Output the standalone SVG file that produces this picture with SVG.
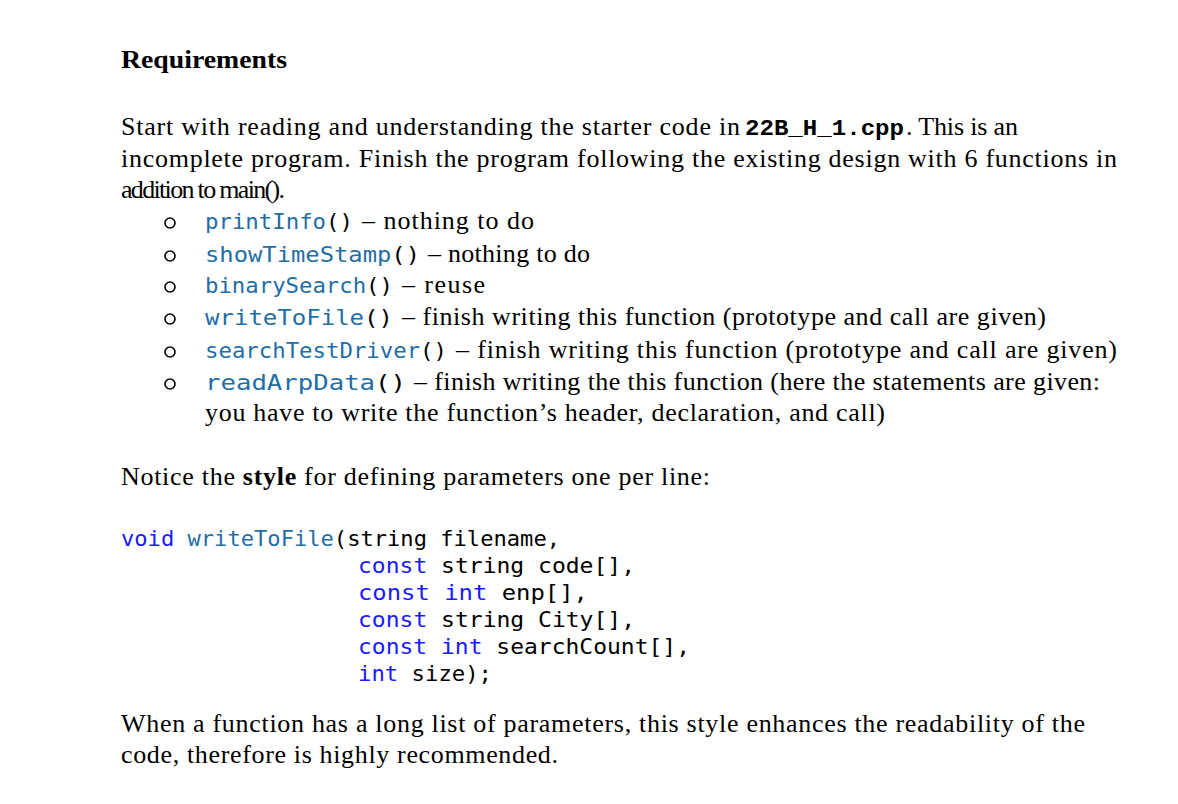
<svg xmlns="http://www.w3.org/2000/svg" width="1178" height="804" viewBox="0 0 1178 804">
<style>
.s{font-family:"Liberation Serif",serif;font-size:26px;fill:#000}
.m{font-family:"DejaVu Sans Mono",monospace;font-size:22px;fill:#000}
.f{fill:#1f6ea6}
.k{fill:#1a1aff}
.b{font-weight:bold}
</style>
<rect width="1178" height="804" fill="#fff"/>
<g id="title"><text class="s b" x="121" y="68" textLength="166" lengthAdjust="spacingAndGlyphs">Requirements</text></g>
<g id="intro">
<text class="s" x="121" y="135" textLength="619" lengthAdjust="spacing">Start with reading and understanding the starter code in</text>
<text x="745" y="135" font-family="Liberation Mono,monospace" font-size="22" font-weight="bold" textLength="159" lengthAdjust="spacingAndGlyphs">22B_H_1.cpp</text>
<text class="s" x="906" y="135" textLength="112" lengthAdjust="spacing">. This is an</text>
<text class="s" x="121" y="167" textLength="996" lengthAdjust="spacing">incomplete program. Finish the program following the existing design with 6 functions in</text>
<text class="s" x="121" y="198" textLength="164" lengthAdjust="spacing">addition to main().</text>
</g>
<g id="bullets" fill="none" stroke="#000" stroke-width="1.6">
<circle cx="170" cy="223" r="5"/><circle cx="170" cy="256" r="5"/><circle cx="170" cy="287" r="5"/>
<circle cx="170" cy="319" r="5"/><circle cx="170" cy="352" r="5"/><circle cx="170" cy="384" r="5"/>
</g>
<g id="items">
<text class="m" x="205" y="229" textLength="148" lengthAdjust="spacingAndGlyphs"><tspan class="f">printInfo</tspan>()</text>
<text class="s" x="362" y="229" textLength="172" lengthAdjust="spacing">– nothing to do</text>
<text class="m" x="205" y="262" textLength="215" lengthAdjust="spacingAndGlyphs"><tspan class="f">showTimeStamp</tspan>()</text>
<text class="s" x="428" y="262" textLength="162" lengthAdjust="spacing">– nothing to do</text>
<text class="m" x="205" y="293" textLength="188" lengthAdjust="spacingAndGlyphs"><tspan class="f">binarySearch</tspan>()</text>
<text class="s" x="402" y="293" textLength="83" lengthAdjust="spacing">– reuse</text>
<text class="m" x="205" y="325" textLength="188" lengthAdjust="spacingAndGlyphs"><tspan class="f">writeToFile</tspan>()</text>
<text class="s" x="402" y="325" textLength="644" lengthAdjust="spacing">– finish writing this function (prototype and call are given)</text>
<text class="m" x="205" y="358" textLength="242" lengthAdjust="spacingAndGlyphs"><tspan class="f">searchTestDriver</tspan>()</text>
<text class="s" x="456" y="358" textLength="661" lengthAdjust="spacing">– finish writing this function (prototype and call are given)</text>
<text class="m" x="205" y="390" textLength="201" lengthAdjust="spacingAndGlyphs"><tspan class="f">readArpData</tspan>()</text>
<text class="s" x="414" y="390" textLength="686" lengthAdjust="spacing">– finish writing the this function (here the statements are given:</text>
<text class="s" x="205" y="421" textLength="680" lengthAdjust="spacing">you have to write the function’s header, declaration, and call)</text>
</g>
<g id="notice"><text class="s" x="121" y="485" textLength="589" lengthAdjust="spacing">Notice the <tspan class="b">style</tspan> for defining parameters one per line:</text></g>
<g id="code">
<text class="m" x="121" y="546" textLength="439" lengthAdjust="spacingAndGlyphs"><tspan class="k">void</tspan> <tspan class="f">writeToFile</tspan>(string filename,</text>
<text class="m" x="358" y="573" textLength="277" lengthAdjust="spacingAndGlyphs"><tspan class="k">const</tspan> string code[],</text>
<text class="m" x="358" y="600" textLength="230" lengthAdjust="spacingAndGlyphs"><tspan class="k">const</tspan> <tspan class="k">int</tspan> enp[],</text>
<text class="m" x="358" y="627" textLength="277" lengthAdjust="spacingAndGlyphs"><tspan class="k">const</tspan> string City[],</text>
<text class="m" x="358" y="654" textLength="332" lengthAdjust="spacingAndGlyphs"><tspan class="k">const</tspan> <tspan class="k">int</tspan> searchCount[],</text>
<text class="m" x="358" y="681" textLength="134" lengthAdjust="spacingAndGlyphs"><tspan class="k">int</tspan> size);</text>
</g>
<g id="closing">
<text class="s" x="121" y="732" textLength="964" lengthAdjust="spacing">When a function has a long list of parameters, this style enhances the readability of the</text>
<text class="s" x="121" y="763" textLength="437" lengthAdjust="spacing">code, therefore is highly recommended.</text>
</g>
</svg>
